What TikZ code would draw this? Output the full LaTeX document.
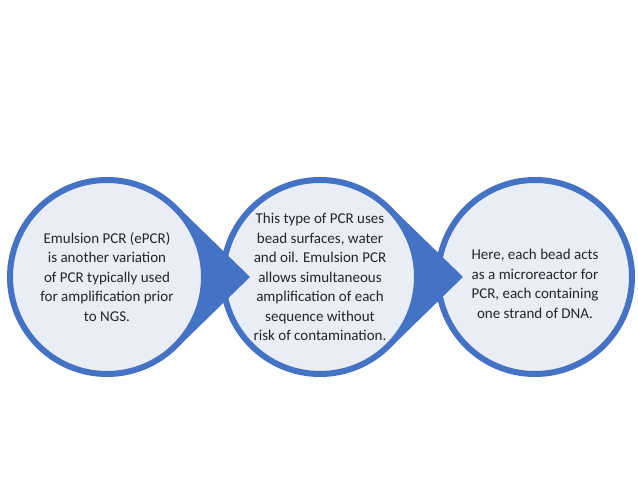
\documentclass[tikz,border=0pt]{standalone}
\usepackage{fontspec}
\setmainfont{Carlito}
\usetikzlibrary{calc}
\definecolor{bl}{HTML}{4472C4}
\definecolor{lf}{HTML}{E9EDF6}
\begin{document}
\begin{tikzpicture}[x=1pt,y=-1pt,
  bub/.style={circle,draw=bl,line width=6pt,fill=lf,minimum size=194pt,inner sep=0pt},
  txt/.style={align=center,font=\fontsize{15}{19.5}\selectfont,text=black!85}]
\useasboundingbox (0,0) rectangle (638,478);
\coordinate (p1) at (107,277);
\coordinate (p2) at (320,277);
\node[bub] (c3) at (535,277) {};
\fill[bl] ($(p2)+(70,-71)$) -- ($(p2)+(143,0)$) -- ($(p2)+(70,71)$) -- cycle;
\node[bub] (c2) at (p2) {};
\fill[bl] ($(p1)+(70,-71)$) -- ($(p1)+(143,0)$) -- ($(p1)+(70,71)$) -- cycle;
\node[bub] (c1) at (p1) {};
\node[txt] (t1) at (c1) {Emulsion PCR (ePCR)\\is another variation\\of PCR typically used\\for amplification prior\\to NGS.};
\node[txt] (t2) at (c2) {This type of PCR uses\\bead surfaces, water\\and oil. Emulsion PCR\\allows simultaneous\\amplification of each\\sequence without\\risk of contamination.};
\node[txt] (t3) at ([yshift=-7pt]c3) {Here, each bead acts\\as a microreactor for\\PCR, each containing\\one strand of DNA.};
\end{tikzpicture}
\end{document}
